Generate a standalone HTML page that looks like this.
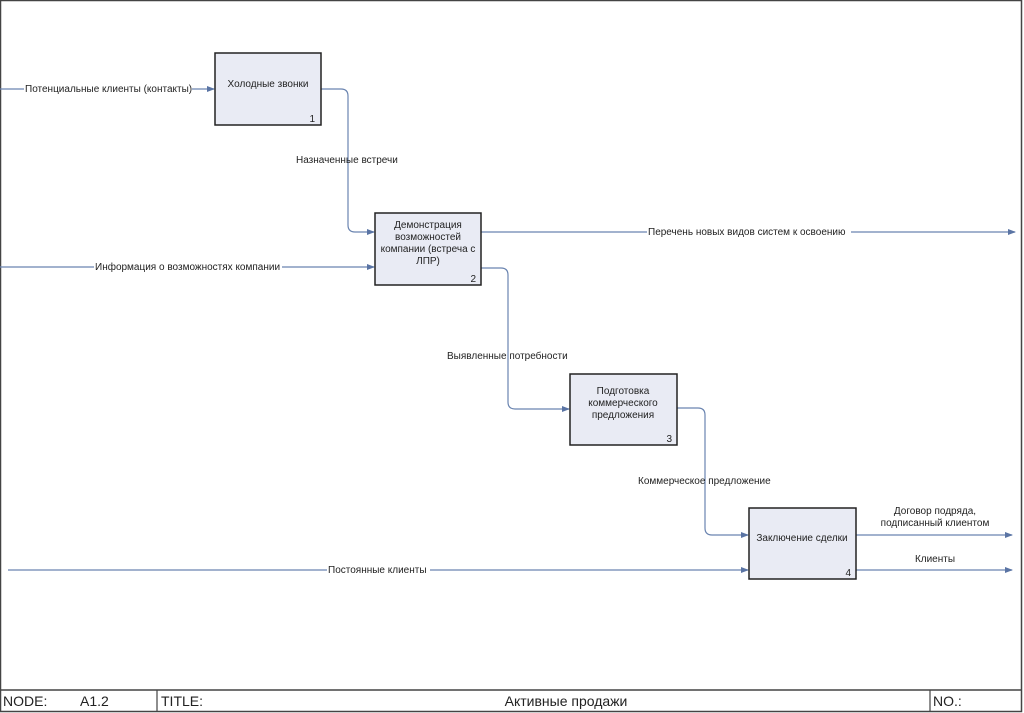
<!DOCTYPE html>
<html><head><meta charset="utf-8"><style>
html,body{margin:0;padding:0;background:#fff;}
svg{display:block;}
text{font-family:"Liberation Sans","Noto Sans CJK SC",sans-serif;font-size:10px;fill:#222;}
.box{fill:#e9ebf4;stroke:#222;stroke-width:1.5;}
.ln{fill:none;stroke:#6a84b0;stroke-width:1.2;}
.lb{fill:#fff;}
</style></head><body>
<svg width="1024" height="713" viewBox="0 0 1024 713">
<defs><marker id="a" markerWidth="8" markerHeight="6" refX="7" refY="3" orient="auto" markerUnits="userSpaceOnUse"><path d="M0,0 L8,3 L0,6 z" fill="#5a74a4"/></marker></defs>
<rect x="0.5" y="0.5" width="1021" height="711" fill="none" stroke="#444" stroke-width="1.5"/>
<!-- connectors -->
<path class="ln" d="M0,89 H214" marker-end="url(#a)"/>
<path class="ln" d="M321,89 H341 Q348,89 348,96 V225 Q348,232 355,232 H374" marker-end="url(#a)"/>
<path class="ln" d="M0,267 H374" marker-end="url(#a)"/>
<path class="ln" d="M481,232 H1015" marker-end="url(#a)"/>
<path class="ln" d="M481,268 H501 Q508,268 508,275 V402 Q508,409 515,409 H569" marker-end="url(#a)"/>
<path class="ln" d="M677,408 H698 Q705,408 705,415 V528 Q705,535 712,535 H748" marker-end="url(#a)"/>
<path class="ln" d="M856,535 H1012" marker-end="url(#a)"/>
<path class="ln" d="M856,570 H1012" marker-end="url(#a)"/>
<path class="ln" d="M8,570 H748" marker-end="url(#a)"/>
<!-- labels -->
<rect class="lb" x="24" y="83" width="168" height="12"/><text x="25" y="92">Потенциальные клиенты (контакты)</text>
<text x="296" y="163">Назначенные встречи</text>
<rect class="lb" x="94" y="261" width="188" height="12"/><text x="95" y="270">Информация о возможностях компании</text>
<rect class="lb" x="647" y="226" width="204" height="12"/><text x="648" y="235">Перечень новых видов систем к освоению</text>
<text x="447" y="359">Выявленные потребности</text>
<text x="638" y="484">Коммерческое предложение</text>
<text x="935" y="514" text-anchor="middle">Договор подряда,</text>
<text x="935" y="526" text-anchor="middle">подписанный клиентом</text>
<text x="935" y="562" text-anchor="middle">Клиенты</text>
<rect class="lb" x="327" y="564" width="103" height="12"/><text x="328" y="573">Постоянные клиенты</text>
<!-- boxes -->
<rect class="box" x="215" y="53" width="106" height="72"/>
<text x="268" y="87" text-anchor="middle">Холодные звонки</text><text x="315" y="122" text-anchor="end">1</text>
<rect class="box" x="375" y="213" width="106" height="72"/>
<text x="428" y="228" text-anchor="middle">Демонстрация</text>
<text x="428" y="240" text-anchor="middle">возможностей</text>
<text x="428" y="252" text-anchor="middle">компании (встреча с</text>
<text x="428" y="264" text-anchor="middle">ЛПР)</text>
<text x="476" y="282" text-anchor="end">2</text>
<rect class="box" x="570" y="374" width="107" height="71"/>
<text x="623" y="394" text-anchor="middle">Подготовка</text>
<text x="623" y="406" text-anchor="middle">коммерческого</text>
<text x="623" y="418" text-anchor="middle">предложения</text>
<text x="672" y="442" text-anchor="end">3</text>
<rect class="box" x="749" y="508" width="107" height="71"/>
<text x="802" y="541" text-anchor="middle">Заключение сделки</text>
<text x="851" y="576" text-anchor="end">4</text>
<!-- footer -->
<line x1="0" y1="690" x2="1022" y2="690" stroke="#444" stroke-width="1.5"/>
<line x1="157" y1="690" x2="157" y2="712" stroke="#444" stroke-width="1.2"/>
<line x1="930" y1="690" x2="930" y2="712" stroke="#444" stroke-width="1.2"/>
<text x="3" y="706" style="font-size:14px">NODE:</text>
<text x="80" y="706" style="font-size:14px">A1.2</text>
<text x="161" y="706" style="font-size:14px">TITLE:</text>
<text x="566" y="706" text-anchor="middle" style="font-size:14px">Активные продажи</text>
<text x="933" y="706" style="font-size:14px">NO.:</text>
</svg>
</body></html>
